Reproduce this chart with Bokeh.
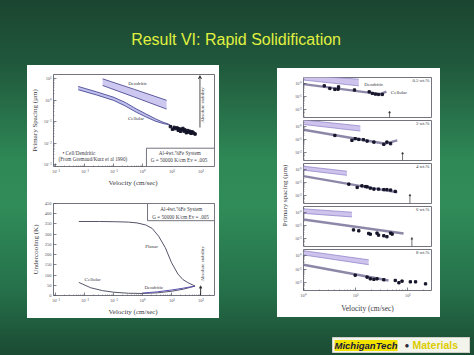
import math
from bokeh.plotting import figure
from bokeh.layouts import column, row
from bokeh.models import (Spacer, Label, BoxAnnotation, Arrow, NormalHead, VeeHead,
                          FixedTicker, CustomJSTickFormatter)
from bokeh.embed import file_html
from bokeh.resources import INLINE

# ------------------------------------------------------------------ data
TITLE = "Result VI: Rapid Solidification"

# Chart A : primary spacing vs velocity (Al-4wt.%Fe)
A_X_TICKS = [1e-3, 1e-2, 1e-1, 1e0, 1e1, 1e2]
A_Y_TICKS = [1e-3, 1e-2, 1e-1, 1e0, 1e1]
A_DEND_V = [0.041, 0.52, 6.6]
A_DEND_HI = [10.0, 3.2, 1.0]
A_DEND_LO = [4.9, 1.4, 0.39]
A_CELL_V = [0.0059, 0.025, 0.1, 0.25, 0.59, 1.26, 2.7, 5.0, 7.6, 10.0]
A_CELL_HI = [4.4, 2.5, 1.38, 0.79, 0.40, 0.234, 0.138, 0.095, 0.079, 0.060]
A_CELL_LO = [3.1, 1.78, 0.98, 0.54, 0.28, 0.17, 0.107, 0.083, 0.074, 0.058]
A_PTS_V = [8.9, 10.5, 12.0, 13.2, 15.1, 16.6, 17.8, 20.0, 21.4, 24.0,
           26.3, 28.2, 31.6, 35.5, 38.0, 41.7, 45.7, 50.1, 56.2, 63.1]
A_PTS_S = [0.060, 0.045, 0.055, 0.048, 0.052, 0.040, 0.047, 0.036, 0.044, 0.049,
           0.037, 0.042, 0.031, 0.039, 0.033, 0.036, 0.029, 0.034, 0.030, 0.027]
A_STAB_V = 93.0
A_STAB_S = [0.054, 14.0]

# Chart B : undercooling vs velocity
B_Y_TICKS = [0, 50, 100, 150, 200, 250, 300, 350, 400, 450]
B_PLANAR_V = [0.0062, 0.0316, 0.1, 0.316, 0.63, 1.26, 2.1, 3.5, 5.9, 9.8, 16.2, 24.0, 35.5, 63.0]
B_PLANAR_K = [362, 362, 361, 359, 355, 345, 328, 290, 235, 160, 105, 78, 63, 46]
B_CELL_V = [0.0062, 0.0158, 0.040, 0.1, 0.316, 1.0, 3.16, 10.0, 25.1, 63.0]
B_CELL_K = [64, 38, 24, 16, 11, 10, 13, 21, 31, 46]
B_DEND_V = [1.0, 3.16, 10.0, 25.1, 63.0]
B_DEND_K = [12, 18, 27, 36, 46]
B_STAB_V = 98.0
B_STAB_K = [0, 48]

# Chart C : five alloy panels
C_LABELS = ["0.5 wt.%", "2 wt.%", "4 wt.%", "6 wt.%", "8 wt.%"]
C_X_TICKS = [1e0, 1e1, 1e2]
C_Y_TICKS = [1e-2, 1e-1, 1e0]
C_BAND_V = [[1, 11.5], [1, 12.3], [1, 6.8], [1, 8.5], [1, 17.8]]
C_BAND_HI = [[4.2, 2.1], [3.1, 1.1], [1.74, 0.74], [1.86, 1.05], [2.3, 0.49]]
C_BAND_LO = [[1.8, 0.66], [1.41, 0.45], [0.89, 0.36], [0.85, 0.46], [1.12, 0.214]]
C_LINE_V = [[1, 29.5, 38.9], [1, 37, 63], [1, 63], [1, 83], [1, 42.7]]
C_LINE_S = [[0.89, 0.158, 0.24], [0.56, 0.050, 0.089], [0.316, 0.0186], [0.295, 0.0257], [0.214, 0.0148]]
C_PTS_V = [
    [2.5, 3.2, 4.0, 4.6, 4.7, 9.5, 18.2, 20.9, 24.0, 27.5, 32.4],
    [4.0, 8.5, 9.8, 11.5, 14.1, 16.6, 22.4, 34.7, 39.8, 46.8],
    [7.4, 10.7, 13.2, 15.5, 16.6, 19.1, 22.4, 27.5, 34.7, 39.8, 46.8, 57.5],
    [9.1, 11.5, 17.8, 19.1, 25.7, 27.5, 34.7, 39.8, 46.8, 50.1],
    [9.8, 16.6, 19.1, 22.4, 25.7, 34.7, 57.5, 67.6, 77.6, 112, 141, 219],
]
C_PTS_S = [
    [0.66, 0.42, 0.355, 0.37, 0.55, 0.32, 0.234, 0.178, 0.158, 0.148, 0.148],
    [0.21, 0.089, 0.12, 0.105, 0.10, 0.079, 0.066, 0.045, 0.066, 0.050],
    [0.078, 0.044, 0.058, 0.051, 0.049, 0.039, 0.033, 0.033, 0.030, 0.030, 0.028, 0.022],
    [0.048, 0.041, 0.026, 0.023, 0.0275, 0.0195, 0.0174, 0.0148, 0.0275, 0.0234],
    [0.036, 0.026, 0.0195, 0.0178, 0.0195, 0.0166, 0.0148, 0.010, 0.0132, 0.0117, 0.0117, 0.0083],
]
C_STAB_V = [44.7, 79.4, 110.0, 120.0, None]
C_STAB_S = [0.0083, 0.0117, 0.014, 0.0132, None]

# ------------------------------------------------------------------ style
SERIF = "Liberation Serif"
SANS = "Liberation Sans"
FRAME = "#50505e"
TXT = "#3a3a44"
BAND_FILL_A = "#cdc8f0"
BAND_EDGE_A = "#3a3a86"
CELL_FILL_A = "#bdbdee"
BAND_FILL_C = "#cec3ec"
BAND_EDGE_C = "#8a7cc4"
LINE_C = "#8d88a8"
BG = ("linear-gradient(to bottom, #1b4530 0%, #20583c 18%, #2e8856 45%, "
      "#308c59 58%, #25704a 82%, #1b4a33 100%)")
WHITE = {"background": "#ffffff"}

SUP_CODE = """
const e = Math.round(Math.log10(tick));
const m = {"-": "\\u207b", "0": "\\u2070", "1": "\\u00b9", "2": "\\u00b2", "3": "\\u00b3",
           "4": "\\u2074", "5": "\\u2075", "6": "\\u2076", "7": "\\u2077", "8": "\\u2078", "9": "\\u2079"};
return "10" + String(e).split("").map(c => m[c]).join("");
"""


def sup_fmt():
    return CustomJSTickFormatter(code=SUP_CODE)


def log_ticker(ticks):
    decades = [ticks[0] / 10] + list(ticks)
    return FixedTicker(ticks=ticks, minor_ticks=[m * d for d in decades for m in range(2, 10)])


def style(p, tick_size="4.5px", label_size="7px"):
    p.grid.visible = False
    p.background_fill_color = "white"
    p.border_fill_color = "white"
    p.outline_line_color = FRAME
    p.outline_line_width = 0.8
    for ax in p.axis:
        ax.axis_line_color = None
        ax.major_tick_in = 3
        ax.major_tick_out = 0
        ax.minor_tick_in = 1
        ax.minor_tick_out = 0
        ax.major_tick_line_color = FRAME
        ax.minor_tick_line_color = FRAME
        ax.major_tick_line_width = 0.7
        ax.minor_tick_line_width = 0.5
        ax.major_label_text_font = SERIF
        ax.major_label_text_font_size = tick_size
        ax.major_label_text_color = "#555560"
        ax.major_label_standoff = 2
        ax.axis_label_text_font = SERIF
        ax.axis_label_text_font_style = "normal"
        ax.axis_label_text_font_size = label_size
        ax.axis_label_text_color = TXT
        ax.axis_label_standoff = 2


def lab(p, x, y, text, size="5px", align="center", angle=0.0, color=TXT):
    p.add_layout(Label(x=x, y=y, text=text, text_font=SERIF, text_font_size=size,
                       text_color=color, text_align=align, text_baseline="middle",
                       angle=angle))


# ------------------------------------------------------------------ title
pT = figure(width=474, height=65, x_range=(0, 1), y_range=(0, 1), toolbar_location=None,
            output_backend="svg", x_axis_location=None, y_axis_location=None, min_border=0)
pT.grid.visible = False
pT.outline_line_color = None
pT.background_fill_color = None
pT.border_fill_color = None
pT.add_layout(Label(x=0.497, y=0.4, text=TITLE, text_font=SANS, text_font_size="16px",
                    text_color="#e0f040", text_align="center", text_baseline="middle"))

# ------------------------------------------------------------------ chart A
pA = figure(width=192, height=127, x_axis_type="log", y_axis_type="log",
            x_range=(10 ** -3.08, 10 ** 2.47), y_range=(10 ** -3.08, 10 ** 1.2),
            toolbar_location=None, output_backend="svg",
            min_border_left=21, min_border_right=5, min_border_top=9, min_border_bottom=26)
style(pA)
pA.xaxis.ticker = log_ticker(A_X_TICKS)
pA.yaxis.ticker = log_ticker(A_Y_TICKS)
pA.xaxis.formatter = sup_fmt()
pA.yaxis.formatter = sup_fmt()
pA.xaxis.axis_label = "Velocity  (cm/sec)"
pA.yaxis.axis_label = "Primary Spacing (\u00b5m)"

pA.varea(x=A_DEND_V, y1=A_DEND_LO, y2=A_DEND_HI, fill_color=BAND_FILL_A)
pA.line(A_DEND_V, A_DEND_HI, line_color=BAND_EDGE_A, line_width=0.8)
pA.line(A_DEND_V, A_DEND_LO, line_color=BAND_EDGE_A, line_width=0.8)
pA.varea(x=A_CELL_V, y1=A_CELL_LO, y2=A_CELL_HI, fill_color=CELL_FILL_A)
pA.line(A_CELL_V, A_CELL_HI, line_color=BAND_EDGE_A, line_width=0.8)
pA.line(A_CELL_V, A_CELL_LO, line_color=BAND_EDGE_A, line_width=0.8)
pA.scatter(A_PTS_V, A_PTS_S, marker="square", size=2.4, color="#15152a")
pA.add_layout(Arrow(end=VeeHead(size=3, line_color="#222", line_width=0.7, fill_color="#222"),
                    x_start=A_STAB_V, y_start=A_STAB_S[0], x_end=A_STAB_V, y_end=A_STAB_S[1],
                    line_color="#222", line_width=0.8))
lab(pA, 0.66, 6.0, "Dendritic")
lab(pA, 0.58, 0.14, "Cellular")
lab(pA, 118, 0.6, "Absolute stability", angle=math.pi / 2)
pA.add_layout(BoxAnnotation(left=1.33, top=0.0059, fill_color="white", fill_alpha=1,
                            line_color=FRAME, line_width=0.8, line_alpha=1))
lab(pA, 0.0017, 0.0035, "\u2022 Cell/Dendritic", size="5.2px", align="left")
lab(pA, 0.00123, 0.0018, "(From Gremaud/Kurz et al 1990)", size="5.2px", align="left")
lab(pA, 18.6, 0.0034, "Al-4wt.%Fe System", size="5.2px")
lab(pA, 18.6, 0.0017, "G = 50000 K/cm  Ev = .005", size="5.2px")

# ------------------------------------------------------------------ chart B
pB = figure(width=192, height=126, x_axis_type="log",
            x_range=(10 ** -3.08, 10 ** 2.47), y_range=(0, 450),
            toolbar_location=None, output_backend="svg",
            min_border_left=21, min_border_right=5, min_border_top=11, min_border_bottom=22)
style(pB)
pB.xaxis.ticker = log_ticker(A_X_TICKS)
pB.xaxis.formatter = sup_fmt()
pB.yaxis.ticker = FixedTicker(ticks=B_Y_TICKS, minor_ticks=[])
pB.xaxis.axis_label = "Velocity  (cm/sec)"
pB.yaxis.axis_label = "Undercooling (K)"

pB.line(B_PLANAR_V, B_PLANAR_K, line_color="#55556a", line_width=1.0)
pB.line(B_CELL_V, B_CELL_K, line_color="#55556a", line_width=1.0)
pB.line(B_DEND_V, B_DEND_K, line_color="#5a50b0", line_width=1.0)
pB.add_layout(Arrow(end=NormalHead(size=2.5, line_color="#222", fill_color="#222", line_width=0.5),
                    x_start=B_STAB_V, y_start=B_STAB_K[0], x_end=B_STAB_V, y_end=B_STAB_K[1],
                    line_color="#222", line_width=0.9))
lab(pB, 2.0, 241, "Planar")
lab(pB, 0.0186, 78, "Cellular")
lab(pB, 2.4, 39, "Dendritic")
lab(pB, 118, 155, "Absolute stability", angle=math.pi / 2)
pB.add_layout(BoxAnnotation(left=1.45, bottom=366, fill_color="white", fill_alpha=1,
                            line_color=FRAME, line_width=0.8, line_alpha=1))
lab(pB, 21, 423, "Al-4wt.%Fe System", size="5.2px")
lab(pB, 21, 385, "G = 50000 K/cm  Ev = .005", size="5.2px")

# ------------------------------------------------------------------ chart C
pLab = figure(width=12, height=249, x_range=(0, 1), y_range=(0, 1), toolbar_location=None,
              output_backend="svg", x_axis_location=None, y_axis_location=None, min_border=0)
pLab.grid.visible = False
pLab.outline_line_color = None
pLab.background_fill_color = "white"
pLab.border_fill_color = "white"
lab(pLab, 0.65, 0.49, "Primary spacing (\u00b5m)", size="7px", angle=math.pi / 2)

figs_c = []
for i in range(5):
    top = 9 if i == 0 else 1
    bottom = 27 if i == 4 else 2
    frame_h = 41 if i == 4 else 40
    p = figure(width=151, height=top + frame_h + bottom, x_axis_type="log", y_axis_type="log",
               x_range=(1.0, 10 ** 2.455), y_range=(10 ** -2.57, 10 ** 0.45),
               toolbar_location=None, output_backend="svg",
               min_border_left=14, min_border_right=9, min_border_top=top, min_border_bottom=bottom)
    style(p, tick_size="4.3px", label_size="7.5px")
    p.yaxis.ticker = log_ticker(C_Y_TICKS)
    p.yaxis.formatter = sup_fmt()
    p.xaxis.ticker = log_ticker(C_X_TICKS)
    p.xaxis.formatter = sup_fmt()
    if i < 4:
        p.xaxis.visible = False
    else:
        p.xaxis.axis_label = "Velocity (cm/sec)"
        p.xaxis.axis_label_standoff = 3
    p.varea(x=C_BAND_V[i], y1=C_BAND_LO[i], y2=C_BAND_HI[i], fill_color=BAND_FILL_C)
    p.line(C_BAND_V[i], C_BAND_HI[i], line_color=BAND_EDGE_C, line_width=0.7)
    p.line(C_BAND_V[i], C_BAND_LO[i], line_color=BAND_EDGE_C, line_width=0.7)
    p.line(C_LINE_V[i], C_LINE_S[i], line_color=LINE_C, line_width=2.4)
    p.scatter(C_PTS_V[i], C_PTS_S[i], marker="square", size=2.3, color="#15152a")
    if C_STAB_V[i] is not None:
        p.add_layout(Arrow(end=NormalHead(size=2, line_color="#333", fill_color="#333", line_width=0.4),
                           x_start=C_STAB_V[i], y_start=10 ** -2.57, x_end=C_STAB_V[i],
                           y_end=C_STAB_S[i], line_color="#333", line_width=0.7))
    lab(p, 262, 1.7, C_LABELS[i], size="4.8px", align="right")
    if i == 0:
        lab(p, 22.3, 0.83, "Dendritic", size="5px")
        lab(p, 67.5, 0.21, "Cellular", size="5px")
    figs_c.append(p)

# ------------------------------------------------------------------ logo
pL = figure(width=138, height=16, x_range=(0, 138), y_range=(0, 16), toolbar_location=None,
            output_backend="svg", x_axis_location=None, y_axis_location=None, min_border=0)
pL.grid.visible = False
pL.background_fill_color = "#f3f5ec"
pL.border_fill_color = "#f3f5ec"
pL.outline_line_color = "#d0d0c8"
pL.add_layout(Label(x=2, y=8, text="MichiganTech", text_font=SANS, text_font_style="bold italic",
                    text_font_size="9.5px", text_color="#1a1a3a", text_baseline="middle",
                    background_fill_color="#f1e200"))
pL.add_layout(Label(x=72, y=8, text="\u25cf", text_font=SANS, text_font_size="8px",
                    text_color="#2a2a3a", text_baseline="middle"))
pL.add_layout(Label(x=80, y=8.5, text="Materials", text_font=SANS, text_font_style="bold",
                    text_font_size="10.5px", text_color="#ddcc00", text_baseline="middle"))

# ------------------------------------------------------------------ layout
left_col = column(pA, pB, spacing=0, styles=WHITE)
right_panels = column(*figs_c, spacing=0, styles=WHITE)
right_white = row(pLab, right_panels, spacing=0, styles=WHITE)
right_block = column(Spacer(width=163, height=3), right_white, spacing=0)
mid = row(Spacer(width=27, height=253), left_col, Spacer(width=58, height=253), right_block,
          spacing=0)
logo_row = row(Spacer(width=332, height=16), pL, spacing=0)
root = column(pT, mid, Spacer(width=474, height=19), logo_row, width=474, height=355,
              spacing=0, styles={"background": BG})

open("out.html", "w", encoding="utf-8").write(file_html(root, INLINE))
